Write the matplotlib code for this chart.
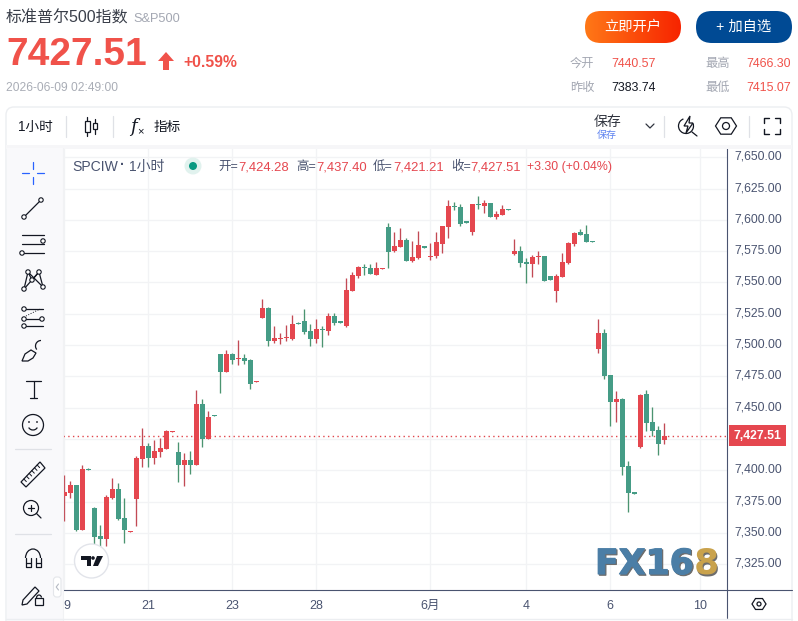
import numpy as np
import matplotlib
matplotlib.use('Agg')
import matplotlib.pyplot as plt
import matplotlib.patheffects as pe
from matplotlib.patches import Circle, FancyBboxPatch, Polygon, Rectangle, Arc
from matplotlib.transforms import ScaledTranslation

plt.rcParams['font.family'] = ['Liberation Sans', 'Noto Sans CJK SC', 'DejaVu Sans']

# hourly candles: open, high, low, close
opens = [7379.1, 7381.5, 7387.9, 7352.0, 7400.7, 7369.5, 7347.2, 7344.8, 7377.5, 7384.7,
         7361.6, 7350.4, 7376.7, 7408.7, 7419.1, 7409.5, 7414.3, 7416.7, 7430.2, 7414.3,
         7403.9, 7407.9, 7403.9, 7452.6, 7424.6, 7443.8, 7492.5, 7478.9, 7492.5, 7488.5,
         7489.3, 7487.7, 7470.9, 7522.0, 7530.0, 7503.6, 7505.2, 7506.0, 7505.2, 7518.0,
         7519.6, 7511.6, 7505.2, 7513.2, 7511.6, 7523.6, 7519.6, 7515.6, 7542.8, 7555.5,
         7562.7, 7561.9, 7556.3, 7561.1, 7594.7, 7575.5, 7578.7, 7584.3, 7567.5, 7569.9,
         7579.5, 7570.7, 7571.5, 7581.1, 7594.7, 7611.4, 7610.6, 7598.7, 7590.7, 7613.0,
         7611.4, 7613.8, 7602.6, 7604.2, 7609.0, 7572.4, 7575.5, 7566.0, 7564.4, 7570.0,
         7570.8, 7554.8, 7542.8, 7554.0, 7565.2, 7581.1, 7590.7, 7589.1, 7583.5, 7496.5,
         7510.0, 7476.5, 7454.9, 7457.3, 7403.8, 7382.3, 7419.0, 7461.3, 7438.2, 7431.8,
         7424.28]
highs = [7395.9, 7391.1, 7387.9, 7403.9, 7401.5, 7370.3, 7356.0, 7379.9, 7393.5, 7389.5,
         7377.5, 7351.2, 7411.1, 7433.4, 7421.5, 7423.8, 7425.4, 7431.8, 7431.0, 7422.2,
         7413.5, 7415.1, 7463.8, 7456.6, 7447.0, 7443.8, 7492.5, 7495.7, 7493.3, 7504.4,
         7492.5, 7488.5, 7471.7, 7537.2, 7530.8, 7515.6, 7510.0, 7516.4, 7524.4, 7518.8,
         7529.2, 7517.2, 7521.2, 7515.6, 7526.0, 7526.0, 7519.6, 7553.2, 7558.7, 7563.5,
         7565.1, 7565.1, 7566.7, 7561.9, 7597.9, 7590.7, 7593.9, 7585.9, 7583.5, 7591.5,
         7579.5, 7581.9, 7590.7, 7595.5, 7616.2, 7614.6, 7613.0, 7598.7, 7613.0, 7619.4,
         7616.2, 7613.8, 7607.4, 7612.2, 7609.0, 7585.1, 7579.5, 7569.2, 7571.6, 7574.8,
         7570.8, 7554.8, 7556.4, 7573.2, 7582.7, 7590.7, 7593.1, 7596.3, 7583.5, 7521.2,
         7513.2, 7476.5, 7463.7, 7458.1, 7407.8, 7382.3, 7461.3, 7464.5, 7450.9, 7435.0,
         7437.40]
lows = [7359.2, 7377.5, 7351.2, 7352.0, 7399.9, 7339.2, 7337.6, 7339.2, 7376.7, 7360.0,
        7341.6, 7350.4, 7355.2, 7402.3, 7402.3, 7404.7, 7410.3, 7416.7, 7430.2, 7390.3,
        7387.1, 7396.7, 7403.9, 7418.3, 7424.6, 7443.0, 7461.4, 7478.9, 7484.5, 7483.7,
        7484.5, 7465.3, 7470.9, 7522.0, 7498.9, 7502.0, 7500.5, 7503.6, 7504.4, 7517.2,
        7509.2, 7498.9, 7501.3, 7498.1, 7508.4, 7516.4, 7518.0, 7514.8, 7542.8, 7553.2,
        7556.3, 7557.1, 7556.3, 7561.1, 7561.9, 7574.7, 7578.7, 7567.5, 7566.7, 7569.1,
        7577.9, 7568.3, 7569.9, 7573.9, 7585.9, 7608.2, 7595.5, 7597.9, 7588.3, 7609.0,
        7605.8, 7602.6, 7601.0, 7604.2, 7608.2, 7571.6, 7562.0, 7549.2, 7554.0, 7564.4,
        7550.8, 7551.6, 7534.8, 7554.0, 7564.4, 7579.5, 7588.3, 7582.7, 7582.7, 7493.3,
        7473.3, 7435.0, 7438.2, 7396.6, 7366.3, 7380.7, 7418.2, 7431.0, 7427.0, 7412.6,
        7421.21]
closes = [7382.3, 7387.9, 7352.0, 7400.7, 7399.9, 7346.4, 7344.8, 7378.3, 7384.7, 7360.8,
          7352.0, 7351.2, 7409.5, 7419.1, 7409.5, 7415.1, 7417.5, 7431.0, 7431.0, 7403.9,
          7407.9, 7403.9, 7452.6, 7424.6, 7442.2, 7443.0, 7478.9, 7492.5, 7487.7, 7489.3,
          7486.9, 7469.3, 7471.7, 7530.0, 7503.6, 7506.0, 7506.0, 7506.8, 7517.2, 7517.2,
          7510.8, 7505.2, 7513.2, 7512.4, 7523.6, 7518.0, 7518.0, 7543.6, 7556.3, 7562.7,
          7561.9, 7557.1, 7561.9, 7561.9, 7574.7, 7579.5, 7584.3, 7567.5, 7570.7, 7580.3,
          7577.9, 7571.5, 7582.7, 7595.5, 7611.4, 7610.6, 7597.1, 7597.9, 7613.0, 7612.2,
          7613.8, 7602.6, 7605.0, 7609.0, 7608.2, 7575.5, 7565.2, 7564.4, 7570.0, 7570.8,
          7550.8, 7551.6, 7554.8, 7566.0, 7581.9, 7589.9, 7588.3, 7582.7, 7582.7, 7510.0,
          7475.7, 7454.9, 7457.3, 7403.0, 7381.5, 7380.7, 7460.5, 7437.4, 7431.0, 7421.4,
          7427.51]

price_ticks = [7650, 7625, 7600, 7575, 7550, 7525, 7500, 7475, 7450, 7425, 7400, 7375, 7350, 7325]
date_ticks = [0, 14, 28, 42, 61, 77, 91, 106]
date_labels = ['9', '21', '23', '28', '6月', '4', '6', '10']

UP = '#e5474f'
DOWN = '#459c86'
UP_WICK = '#c24a55'
DOWN_WICK = '#4b9470'
INK = '#131722'
SLATE = '#4a5470'
GREY = '#9b9fab'
RED = '#f0524a'

fig = plt.figure(figsize=(7.98, 6.21), dpi=100, facecolor='white')
W, H = 798, 621

# candle panel
ax = fig.add_axes([63 / W, 1 - 590 / H, (727 - 63) / W, (590 - 148) / H], facecolor='none', zorder=1)
idx = np.arange(len(closes))
opens_a, highs_a, lows_a, closes_a = map(np.array, (opens, highs, lows, closes))
rising = closes_a >= opens_a
ax.vlines(idx[rising], lows_a[rising], highs_a[rising], color=UP_WICK, lw=0.95, zorder=3)
ax.vlines(idx[~rising], lows_a[~rising], highs_a[~rising], color=DOWN_WICK, lw=0.95, zorder=3)
ax.bar(idx, np.abs(closes_a - opens_a), bottom=np.minimum(opens_a, closes_a), width=0.84,
       color=np.where(rising, UP, DOWN), linewidth=0, zorder=4)

ax.set_xlim(-0.217, 110.45)
ax.set_ylim(7304.4, 7657.4)
# 7,425 keeps its grid line, the last price tag takes its place on the scale
ax.set_yticks(price_ticks, ['' if p == 7425 else f'{p:,.2f}' for p in price_ticks])
ax.set_xticks(date_ticks, date_labels)
ax.yaxis.tick_right()
ax.tick_params(axis='y', length=0, pad=5.5, labelsize=8.8, labelcolor=SLATE)
ax.tick_params(axis='x', length=0, pad=7, labelsize=9, labelcolor=SLATE)
ax.grid(True, color='#f2f3f5', lw=0.95, zorder=0)
for side in ('top', 'left'):
    ax.spines[side].set_visible(False)
for side in ('bottom', 'right'):
    ax.spines[side].set_color(SLATE)
    ax.spines[side].set_linewidth(0.8)

# scale labels sit above their grid lines, the first date clears the edge
nudge_up = ScaledTranslation(0, 2 / 100, fig.dpi_scale_trans)
for t in ax.get_yticklabels():
    t.set_transform(t.get_transform() + nudge_up)
first = ax.get_xticklabels()[0]
first.set_transform(first.get_transform() + ScaledTranslation(3 / 100, 0, fig.dpi_scale_trans))

# last price line and its tag on the scale
last = closes[-1]
ax.axhline(last, color='#e0454c', lw=1.0, dashes=(1, 2.4), zorder=2)
ax.text(1.0095, last, f'{last:,.2f}', transform=ax.get_yaxis_transform(), color='white', fontsize=8.8,
        fontweight='bold', va='center', ha='left', clip_on=False,
        bbox=dict(boxstyle='square,pad=0.36', fc='#e5474f', ec='none'))

# page furniture, in pixel coordinates
ui = fig.add_axes([0, 0, 1, 1], facecolor='none', zorder=2)
ui.set_xlim(0, W)
ui.set_ylim(H, 0)
ui.axis('off')


def label(x, y, s, size=9, color=INK, ha='left', **kw):
    ui.text(x, y, s, fontsize=size, color=color, ha=ha, va='center', **kw)


def stroke(xs, ys, color=INK, lw=0.9, **kw):
    ui.plot(xs, ys, color=color, lw=lw, solid_capstyle='round', **kw)


def dot(x, y, r=2.2, color=INK, fc='white', lw=0.8):
    ui.add_patch(Circle((x, y), r, fc=fc, ec=color, lw=lw, zorder=6))


def pill(x0, y0, x1, y1, r, **kw):
    p = FancyBboxPatch((x0 + r, y0 + r), x1 - x0 - 2 * r, y1 - y0 - 2 * r,
                       boxstyle=f'round,pad={r},rounding_size={r}', **kw)
    ui.add_patch(p)
    return p


def hexagon(cx, cy, r, ring):
    t = np.radians(np.arange(0, 360, 60))
    ui.add_patch(Polygon(np.c_[cx + r * np.cos(t), cy + r * 0.9 * np.sin(t)], fc='none', ec=INK, lw=0.9))
    ui.add_patch(Circle((cx, cy), ring, fc='none', ec=INK, lw=0.9))


# header
label(6, 18, '标准普尔500指数', 11.5, '#3a3f4a')
label(133, 19, 'S&P500', 9.2, '#a3a7b2')
label(6, 55, '7427.51', 28, RED, fontweight='bold')
ui.add_patch(Polygon([(158, 61), (166, 52), (174, 61), (169, 61), (169, 70), (163, 70), (163, 61)], fc=RED, ec='none'))
label(183, 62.5, '+0.59%', 11.3, RED, fontweight='bold')
label(6, 88, '2026-06-09 02:49:00', 8.65, '#a9adb6')

# buttons
orange = pill(585, 11, 681, 43, 16, fc='none', ec='none')
grad = np.array([[1.0, 0.47, 0.09], [0.97, 0.14, 0.0]])
grad = np.linspace(grad[0], grad[1], 96)[None, :, :]
im = ui.imshow(grad, extent=(585, 681, 43, 11), aspect='auto', zorder=1)
im.set_clip_path(orange)
ui.set_xlim(0, W)
ui.set_ylim(H, 0)
pill(696, 11, 792, 43, 16, fc='#004a94', ec='none')
label(633, 27, '立即开户', 10.3, 'white', ha='center', zorder=3)
label(744, 27, '+ 加自选', 10.3, 'white', ha='center', zorder=3)

# quote summary
for x, y, name, val, col in [(570, 64, '今开', '7440.57', RED), (705, 64, '最高', '7466.30', RED),
                             (570, 88, '昨收', '7383.74', INK), (705, 88, '最低', '7415.07', RED)]:
    label(x, y, name, 8.8, '#a3a7b2')
    label(x + 41.5, y, val, 8.9, col)

# card outline and panels
pill(6, 107, 792, 640, 8, fc='none', ec='#eceef1', lw=1.0, zorder=0)
ui.add_patch(Rectangle((6, 145), 786, 3.5, fc='#f6f6f8', ec='none'))
ui.add_patch(Rectangle((7, 148), 56, 473, fc='#f9f9fb', ec='none'))
stroke([63, 63], [148, 621], '#f1f2f4', 0.8)
stroke([727, 727], [590, 618], SLATE, 0.8)
stroke([727, 792], [590, 590], SLATE, 0.8)
stroke([6, 792], [618.5, 618.5], '#eceef1', 1.0)
hexagon(759, 604, 7, 2)

# top toolbar
label(18, 127, '1小时', 9.8)
for x in (66, 113, 664, 749):
    stroke([x, x], [116, 137], '#dfe1e6', 0.9)
stroke([87, 87], [117, 136])
ui.add_patch(Rectangle((84.5, 121), 5, 11, fc='white', ec=INK, lw=0.9, zorder=3))
stroke([94.5, 94.5], [119, 134])
ui.add_patch(Rectangle((92.5, 123), 4, 6, fc='white', ec=INK, lw=0.9, zorder=3))
label(130, 127, 'f', 13, INK, style='italic', family='DejaVu Serif')
label(137, 131, '×', 8, INK)
label(154, 127, '指标', 9.8)
label(594, 122, '保存', 10, '#30343f')
label(597, 135, '保存', 7.2, '#5f83f0')
stroke([646, 650, 654], [124, 128, 124], '#30343f', 0.9)
ui.add_patch(Arc((686, 126), 15, 15, theta1=-20, theta2=250, ec=INK, lw=0.9))
ui.add_patch(Polygon([(690, 116), (684, 126), (688, 126), (686, 133), (693, 123), (689, 123)], fc='white', ec=INK, lw=0.9, zorder=3))
stroke([692, 697], [132, 136])
hexagon(726, 126, 10.5, 3.5)
for sx, sy in [(-1, -1), (1, -1), (-1, 1), (1, 1)]:
    stroke([772 + sx * 8, 772 + sx * 8, 772 + sx * 3], [126 + sy * 3, 126 + sy * 8, 126 + sy * 8], lw=1.0)

# legend line inside the chart
label(72, 167, 'SPCIW', 10.1, SLATE)
label(120, 165, '·', 10, SLATE, fontweight='bold')
label(129, 167, '1小时', 10, SLATE)
ui.add_patch(Circle((193, 166), 8.5, fc='#e1f2ee', ec='none'))
ui.add_patch(Circle((193, 166), 4, fc='#089981', ec='none'))
x_pos = [(218, '开=', SLATE, 9), (238, '7,424.28', UP, 9.4), (296, '高=', SLATE, 9), (316, '7,437.40', UP, 9.4),
         (373, '低=', SLATE, 9), (393, '7,421.21', UP, 9.4), (451, '收=', SLATE, 9), (470.5, '7,427.51', UP, 9.4),
         (527, '+3.30 (+0.04%)', UP, 8.9)]
for x, s, c, fs in x_pos:
    label(x, 167, s, fs, c)

# left drawing tools
b = '#2962ff'
stroke([22, 29], [173, 173], b, 0.9)
stroke([37, 44], [173, 173], b, 0.9)
stroke([33, 33], [162, 169], b, 0.9)
stroke([33, 33], [177, 184], b, 0.9)
stroke([24, 41], [217, 200])
dot(24, 217)
dot(41, 200)
for y in (235, 244, 253):
    stroke([22, 44], [y, y])
dot(43, 241)
dot(22, 253)
for pts in ([(24, 289), (28, 272), (32, 280), (39, 272), (43, 287)], [(24, 289), (39, 272)], [(28, 272), (43, 287)]):
    stroke(*zip(*pts))
for p in [(24, 289), (28, 272), (32, 280), (39, 272), (43, 287)]:
    dot(*p)
for y in (309, 319, 326):
    stroke([24, 43], [y, y])
stroke([26, 40], [316, 309], lw=0.7, ls=':')
for p in [(24, 309), (24, 319), (24, 326), (42, 319)]:
    dot(*p)
ui.add_patch(Polygon([(22, 361), (25, 354), (31, 350), (36, 353), (33, 358), (28, 361)], fc='none', ec=INK, lw=0.9))
ui.add_patch(Arc((41, 346), 11, 11, theta1=20, theta2=150, angle=120, ec=INK, lw=0.9))
stroke([26, 41], [381, 381])
stroke([33.5, 33.5], [381, 398])
stroke([30, 37], [398, 398])
ui.add_patch(Circle((33, 425), 10.5, fc='none', ec=INK, lw=0.9))
ui.add_patch(Circle((29, 422), 0.9, fc=INK, ec='none'))
ui.add_patch(Circle((37, 422), 0.9, fc=INK, ec='none'))
ui.add_patch(Arc((33, 425), 10, 10, theta1=30, theta2=150, ec=INK, lw=0.9))
for y in (449, 534):
    stroke([15, 51], [y, y], '#dfe1e6', 0.9)
ui.add_patch(Polygon([(21, 482), (40, 462), (45, 468), (26, 487)], fc='none', ec=INK, lw=0.9))
for t in np.linspace(0.15, 0.85, 6):
    stroke([21 + 19 * t, 23.5 + 19 * t], [482 - 20 * t, 484.6 - 20 * t], lw=0.7)
ui.add_patch(Circle((31, 508), 7.5, fc='none', ec=INK, lw=0.9))
stroke([28, 34], [508, 508])
stroke([31, 31], [505, 511])
stroke([36.5, 41], [513.5, 518])
ui.add_patch(Arc((33, 558), 15, 18, theta1=180, theta2=360, ec=INK, lw=0.9))
stroke([25.5, 25.5, 30.5, 30.5], [558, 567, 567, 558])
stroke([35.5, 35.5, 40.5, 40.5], [558, 567, 567, 558])
stroke([25.5, 30.5], [563, 563])
stroke([35.5, 40.5], [563, 563])
ui.add_patch(Polygon([(23, 600), (35, 587), (39, 591), (27, 604), (22, 605)], fc='none', ec=INK, lw=0.9))
ui.add_patch(Rectangle((35, 598), 8, 7, fc='#f9f9fb', ec=INK, lw=0.9, zorder=3))
ui.add_patch(Arc((39, 598), 5, 6, theta1=180, theta2=350, ec=INK, lw=0.9))
pill(53.5, 577, 61, 597, 3, fc='white', ec='#e4e6ea', lw=0.8)
stroke([58.5, 56.2, 58.5], [584, 587, 590], '#b6bac3', 0.8)

# chart library badge
ui.add_patch(Circle((91.5, 561), 17, fc='white', ec='#e2e4ea', lw=1.0, zorder=5))
ui.add_patch(Polygon([(81, 556), (91, 556), (91, 566), (87, 566), (87, 560), (81, 560)], fc=INK, ec='none', zorder=6))
ui.add_patch(Circle((93, 558), 1.8, fc=INK, ec='none', zorder=6))
ui.add_patch(Polygon([(97, 556), (103, 556), (98, 566), (93, 566)], fc=INK, ec='none', zorder=6))

# watermark
for dx, col_a, col_b, off in [(1.2, '#6d6d6d', '#6d6d6d', 1.2), (0, '#4b7ea6', '#c9a24c', 0)]:
    fx = [pe.withStroke(linewidth=0.8, foreground=col_a)]
    ui.text(595 + dx, 564 + off, 'FX16', fontsize=25, color=col_a, fontweight='bold', family='DejaVu Sans',
            va='center', ha='left', zorder=6, path_effects=fx)
    ui.text(694 + dx, 564 + off, '8', fontsize=26, color=col_b, fontweight='bold', family='DejaVu Sans',
            va='center', ha='left', zorder=6)

fig.savefig('out.png', dpi=100)
